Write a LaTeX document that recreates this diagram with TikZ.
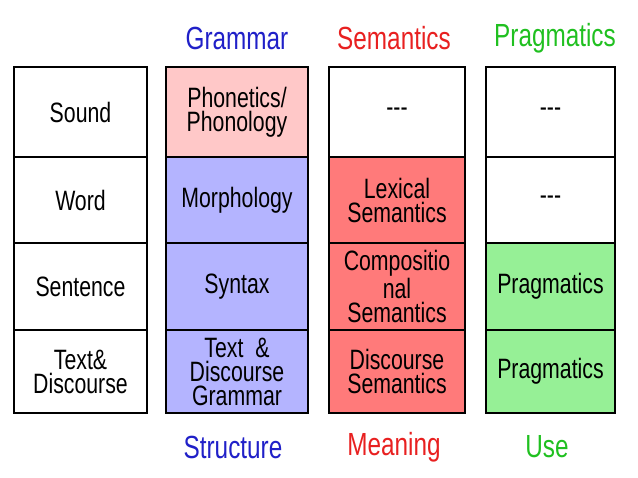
\documentclass[tikz,border=0pt]{standalone}
\usepackage{fontspec}
\setmainfont{Liberation Sans}[FakeStretch=0.76]
\begin{document}
\begin{tikzpicture}[x=1pt,y=-1pt,
  cell/.style={draw,line width=2.2pt,align=center,inner sep=0pt,font=\fontsize{28}{24}\selectfont},
  head/.style={font=\fontsize{32}{32}\selectfont,inner sep=0pt}]
\definecolor{pinkc}{HTML}{FFC8C8}
\definecolor{bluec}{HTML}{B4B4FF}
\definecolor{redc}{HTML}{FF7A7A}
\definecolor{greenc}{HTML}{96F096}
\definecolor{hblue}{HTML}{2020C8}
\definecolor{hred}{HTML}{E82020}
\definecolor{hgreen}{HTML}{20C020}
\useasboundingbox (0,0) rectangle (638,478);
% column 1
\node[cell,minimum width=133pt,minimum height=90pt] (s1) at (80.5,112) {Sound};
\node[cell,minimum width=133pt,minimum height=86pt] (w1) at (80.5,200) {Word};
\node[cell,minimum width=133pt,minimum height=87pt] (n1) at (80.5,286.5) {Sentence};
\node[cell,minimum width=133pt,minimum height=83pt] (t1) at (80.5,371.5) {Text\&\\Discourse};
% column 2
\node[cell,fill=pinkc,minimum width=142pt,minimum height=90pt] (s2) at (237,112) {Phonetics/\\Phonology};
\node[cell,fill=bluec,minimum width=142pt,minimum height=86pt] (w2) at (237,200) {Morphology};
\node[cell,fill=bluec,minimum width=142pt,minimum height=87pt] (n2) at (237,286.5) {Syntax};
\node[cell,fill=bluec,minimum width=142pt,minimum height=83pt] (t2) at (237,371.5) {Text \ \&\\Discourse\\Grammar};
% column 3
\node[cell,minimum width=136pt,minimum height=90pt] (s3) at (397,112) {-{}-{}-};
\node[cell,fill=redc,minimum width=136pt,minimum height=86pt] (w3) at (397,200) {Lexical\\Semantics};
\node[cell,fill=redc,minimum width=136pt,minimum height=87pt] (n3) at (397,286.5) {Compositio\\nal\\Semantics};
\node[cell,fill=redc,minimum width=136pt,minimum height=83pt] (t3) at (397,371.5) {Discourse\\Semantics};
% column 4
\node[cell,minimum width=129pt,minimum height=90pt] (s4) at (550.5,112) {-{}-{}-};
\node[cell,minimum width=129pt,minimum height=86pt] (w4) at (550.5,200) {-{}-{}-};
\node[cell,fill=greenc,minimum width=129pt,minimum height=87pt] (n4) at (550.5,286.5) {Pragmatics};
\node[cell,fill=greenc,minimum width=129pt,minimum height=83pt] (t4) at (550.5,371.5) {Pragmatics};
% headers
\node[head,text=hblue] (h2) at (237,38) {Grammar};
\node[head,text=hred] (h3) at (394,38) {Semantics};
\node[head,text=hgreen] (h4) at (555,38) {Pragmatics};
\node[head,text=hblue] (f2) at (233,447) {Structure};
\node[head,text=hred] (f3) at (394,447) {Meaning};
\node[head,text=hgreen] (f4) at (547,447) {Use};
\end{tikzpicture}
\end{document}
